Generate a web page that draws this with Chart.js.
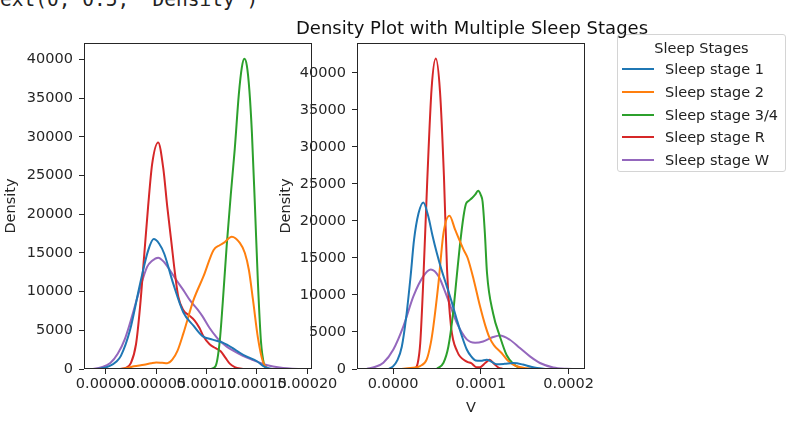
<!DOCTYPE html>
<html>
<head>
<meta charset="utf-8">
<script src="https://cdn.jsdelivr.net/npm/chart.js@4/dist/chart.umd.min.js"></script>
<style>
  html, body { margin:0; padding:0; background:#fff; width:797px; height:434px; overflow:hidden; position:relative; font-family:"DejaVu Sans", sans-serif; }
  canvas { position:absolute; top:0; }
  #cut { position:absolute; left:0; top:-10px; font-family:"DejaVu Sans Mono", monospace; font-size:19.5px; line-height:19.5px; color:#222; white-space:pre; }
  #title { position:absolute; left:222px; width:500px; top:18.5px; text-align:center; font-size:18px; line-height:18px; color:#111; white-space:nowrap; z-index:5; }
  #legend { position:absolute; left:617px; top:34px; width:167px; height:136px; border:1px solid #d4d4d4; border-radius:3px; background:rgba(255,255,255,0.8); font-size:14.5px; color:#222; }
  #legend .lt { position:absolute; left:0; width:100%; top:5px; text-align:center; line-height:16px; }
  #legend .row { position:absolute; left:0; height:16px; line-height:16px; }
  #legend .sw { position:absolute; left:4px; top:7px; width:32px; height:2px; }
  #legend .tx { position:absolute; left:47px; top:0; white-space:nowrap; }
</style>
</head>
<body>
<div id="cut"></div>
<div id="title"></div>
<canvas id="c1" width="345" height="434" style="left:0px"></canvas>
<canvas id="c2" width="345" height="434" style="left:275px"></canvas>
<div id="legend"></div>
<script>
// ---------- text ----------
const cutText = "ext(0, 0.5, 'Density')";
const chartTitle = "Density Plot with Multiple Sleep Stages";
const legendTitle = "Sleep Stages";
const seriesNames = ["Sleep stage 1", "Sleep stage 2", "Sleep stage 3/4", "Sleep stage R", "Sleep stage W"];
const seriesColors = ["#1f77b4", "#ff7f0e", "#2ca02c", "#d62728", "#9467bd"];
const yAxisTitle = "Density";
const xAxisTitleRight = "V";

// ---------- ticks ----------
const leftXTicks = [0, 0.00005, 0.0001, 0.00015, 0.0002];
const leftXTickLabels = ["0.00000", "0.00005", "0.00010", "0.00015", "0.00020"];
const rightXTicks = [0, 0.0001, 0.0002];
const rightXTickLabels = ["0.0000", "0.0001", "0.0002"];
const yTicks = [0, 5000, 10000, 15000, 20000, 25000, 30000, 35000, 40000];
const yTickLabels = ["0", "5000", "10000", "15000", "20000", "25000", "30000", "35000", "40000"];
const leftXRange = [-2.16e-5, 20.46e-5];
const leftYMax = 42150;
const rightXRange = [-4.1e-5, 21.86e-5];
const rightYMax = 44050;

// ---------- left panel series: [V, density] ----------
const leftStage1 = [[-1.1e-5,0],[-0.5e-5,60],[0.4e-5,400],[1.0e-5,900],[1.5e-5,1700],[2.4e-5,5000],[3.4e-5,11000],[4.2e-5,15300],[4.75e-5,16800],[5.3e-5,16200],[5.8e-5,14900],[6.7e-5,11000],[7.7e-5,7300],[8.7e-5,5600],[9.6e-5,4250],[10.6e-5,3800],[11.6e-5,3400],[12.6e-5,2700],[13.3e-5,2100],[14.0e-5,1600],[15.0e-5,1000],[15.6e-5,400],[16.0e-5,170],[16.6e-5,0]];
const leftStage2 = [[1.4e-5,0],[2.2e-5,150],[2.8e-5,350],[3.8e-5,550],[4.5e-5,750],[5.0e-5,850],[5.6e-5,800],[6.1e-5,750],[6.6e-5,1200],[7.1e-5,2300],[7.7e-5,4600],[8.7e-5,8900],[9.7e-5,12000],[10.7e-5,15400],[11.3e-5,16000],[11.7e-5,16300],[12.5e-5,17100],[13.3e-5,16300],[13.8e-5,15000],[14.2e-5,12800],[14.6e-5,9000],[15.1e-5,4000],[15.6e-5,900],[16.1e-5,0]];
const leftStage34 = [[10.4e-5,0],[10.9e-5,400],[11.3e-5,3500],[11.6e-5,8500],[12.0e-5,16000],[12.4e-5,22500],[12.8e-5,28500],[13.2e-5,35500],[13.5e-5,39000],[13.75e-5,40100],[14.0e-5,39200],[14.25e-5,36000],[14.5e-5,30500],[14.8e-5,21000],[15.1e-5,11000],[15.4e-5,3500],[15.7e-5,600],[16.0e-5,0]];
const leftStageR = [[1.4e-5,0],[2.0e-5,150],[2.5e-5,800],[3.0e-5,3200],[3.4e-5,8000],[3.8e-5,14500],[4.2e-5,21000],[4.6e-5,26500],[5.2e-5,29300],[5.7e-5,26000],[6.1e-5,21000],[6.5e-5,16500],[6.9e-5,12000],[7.2e-5,9300],[7.7e-5,7600],[8.3e-5,6900],[8.8e-5,6300],[9.3e-5,5300],[9.7e-5,4200],[10.3e-5,3200],[10.9e-5,2700],[11.4e-5,2300],[11.9e-5,1400],[12.3e-5,700],[12.8e-5,250],[13.6e-5,0]];
const leftStageW = [[-1.25e-5,0],[-0.5e-5,200],[0.45e-5,770],[1.2e-5,2000],[1.9e-5,3900],[2.6e-5,6800],[3.3e-5,10000],[4.1e-5,13200],[4.6e-5,14000],[5.2e-5,14400],[5.8e-5,13800],[6.4e-5,12700],[7.0e-5,11500],[7.7e-5,10200],[8.4e-5,8800],[9.1e-5,7700],[9.6e-5,6800],[10.3e-5,5300],[11.0e-5,4100],[11.4e-5,3550],[12.0e-5,2900],[12.6e-5,2400],[13.6e-5,1700],[14.6e-5,1150],[15.6e-5,650],[16.6e-5,330],[17.6e-5,130],[18.5e-5,40],[19.4e-5,0]];

// ---------- right panel series: [V, density] ----------
const rightStage1 = [[-0.5e-5,0],[0.0e-5,350],[0.5e-5,1200],[1.0e-5,3000],[1.5e-5,7000],[2.0e-5,12500],[2.4e-5,17500],[2.9e-5,21000],[3.45e-5,22500],[4.0e-5,20700],[4.5e-5,18000],[4.98e-5,15700],[5.5e-5,13500],[6.12e-5,11200],[6.7e-5,9000],[7.26e-5,6700],[7.8e-5,4600],[8.4e-5,2640],[8.9e-5,1700],[9.4e-5,1150],[10.0e-5,1100],[10.65e-5,1250],[11.2e-5,1000],[11.8e-5,650],[12.7e-5,700],[13.7e-5,800],[14.8e-5,600],[15.7e-5,300],[16.4e-5,130],[17.5e-5,0]];
const rightStage2 = [[0.8e-5,0],[2.0e-5,150],[3.08e-5,400],[3.84e-5,1300],[4.3e-5,3500],[4.6e-5,5800],[5.18e-5,11640],[5.75e-5,18390],[6.43e-5,20720],[7.07e-5,18830],[8.03e-5,16130],[8.5e-5,15000],[9.2e-5,12000],[9.9e-5,8500],[10.5e-5,5900],[11.0e-5,4200],[11.5e-5,3200],[12.36e-5,2160],[13.1e-5,1100],[14.0e-5,400],[15.2e-5,100],[16.3e-5,0]];
const rightStage34 = [[4.98e-5,0],[5.75e-5,850],[6.3e-5,3000],[6.84e-5,7550],[7.26e-5,12550],[7.6e-5,16540],[8.03e-5,20640],[8.3e-5,22300],[8.6e-5,22700],[9.0e-5,23100],[9.35e-5,23550],[9.69e-5,24090],[10.0e-5,23500],[10.2e-5,22600],[10.46e-5,18350],[10.7e-5,13000],[11.4e-5,7500],[12.17e-5,4400],[12.93e-5,1900],[13.68e-5,700],[14.45e-5,120],[15.0e-5,0]];
const rightStageR = [[1.9e-5,0],[2.5e-5,100],[2.8e-5,700],[3.1e-5,3500],[3.45e-5,12000],[3.9e-5,25500],[4.4e-5,38000],[4.87e-5,41950],[5.35e-5,37500],[5.8e-5,26000],[6.15e-5,13500],[6.6e-5,5800],[7.3e-5,2400],[8.4e-5,1000],[8.9e-5,800],[9.5e-5,250],[9.9e-5,250],[10.5e-5,800],[11.0e-5,1250],[11.5e-5,700],[12.0e-5,200],[12.5e-5,0]];
const rightStageW = [[-3.0e-5,0],[-2.0e-5,300],[-1.1e-5,850],[0.04e-5,2640],[1.19e-5,5800],[2.33e-5,9850],[3.46e-5,12550],[4.3e-5,13440],[5.18e-5,12550],[6.12e-5,9850],[7.26e-5,6250],[8.4e-5,4000],[9.35e-5,3550],[10.26e-5,3720],[11.4e-5,4320],[12.17e-5,4530],[13.3e-5,3950],[14.45e-5,2830],[15.59e-5,1700],[16.73e-5,810],[18.24e-5,215],[19.77e-5,30],[20.7e-5,0]];

const leftSeries = [leftStage1, leftStage2, leftStage34, leftStageR, leftStageW];
const rightSeries = [rightStage1, rightStage2, rightStage34, rightStageR, rightStageW];

// ---------- static text ----------
document.getElementById('cut').textContent = cutText;
document.getElementById('title').textContent = chartTitle;
const lg = document.getElementById('legend');
const lt = document.createElement('div'); lt.className = 'lt'; lt.textContent = legendTitle; lg.appendChild(lt);
seriesNames.forEach((n, i) => {
  const row = document.createElement('div'); row.className = 'row';
  row.style.top = (26.3 + i * 22.7) + 'px'; row.style.width = '100%';
  const sw = document.createElement('div'); sw.className = 'sw'; sw.style.background = seriesColors[i];
  const tx = document.createElement('div'); tx.className = 'tx'; tx.textContent = n;
  row.appendChild(sw); row.appendChild(tx); lg.appendChild(row);
});

// ---------- charts ----------
const INK = '#262626';
const framePlugin = {
  id: 'frame',
  afterDatasetsDraw(chart) {
    const { ctx, chartArea: { left, top, right, bottom } } = chart;
    ctx.save();
    ctx.strokeStyle = INK; ctx.lineWidth = 1;
    ctx.strokeRect(Math.round(left) + 0.5, Math.round(top) + 0.5, Math.round(right - left) - 1, Math.round(bottom - top) - 1);
    ctx.restore();
  }
};

function makeChart(id, series, xRange, yMax, xTicks, xTickLabels, xTitle, yAxisWidth, padRight) {
  const datasets = series.map((pts, i) => ({
    label: seriesNames[i],
    data: pts.map(p => ({ x: p[0], y: p[1] })),
    borderColor: seriesColors[i],
    borderWidth: 2,
    pointRadius: 0,
    fill: false,
    cubicInterpolationMode: 'monotone'
  }));
  const font = { family: '"DejaVu Sans", sans-serif', size: 14.5 };
  return new Chart(document.getElementById(id), {
    type: 'line',
    data: { datasets },
    plugins: [framePlugin],
    options: {
      responsive: false, animation: false, devicePixelRatio: 1,
      layout: { padding: { left: 0, top: 43, right: padRight, bottom: 13 } },
      plugins: { legend: { display: false }, tooltip: { enabled: false } },
      scales: {
        x: {
          type: 'linear', min: xRange[0], max: xRange[1],
          afterBuildTicks: s => { s.ticks = xTicks.map(v => ({ value: v })); },
          afterFit: s => { s.height = 52; },
          ticks: { autoSkip: false, maxRotation: 0, minRotation: 0, padding: 2, color: INK, font,
                   callback: (v, i) => xTickLabels[i] },
          grid: { display: true, drawOnChartArea: false, drawTicks: true, tickLength: 5, color: INK, lineWidth: 1 },
          border: { display: false },
          title: { display: !!xTitle, text: xTitle, color: INK, font, padding: { top: 0, bottom: 4 } }
        },
        y: {
          type: 'linear', min: 0, max: yMax,
          afterBuildTicks: s => { s.ticks = yTicks.map(v => ({ value: v })); },
          afterFit: s => { s.width = yAxisWidth; },
          ticks: { autoSkip: false, padding: 6, color: INK, font, callback: (v, i) => yTickLabels[i] },
          grid: { display: true, drawOnChartArea: false, drawTicks: true, tickLength: 5, color: INK, lineWidth: 1 },
          border: { display: false },
          title: { display: true, text: yAxisTitle, color: INK, font, padding: { top: 3, bottom: 0 } }
        }
      }
    }
  });
}

makeChart('c1', leftSeries, leftXRange, leftYMax, leftXTicks, leftXTickLabels, '', 84, 33);
makeChart('c2', rightSeries, rightXRange, rightYMax, rightXTicks, rightXTickLabels, xAxisTitleRight, 82, 35);
</script>
</body>
</html>
